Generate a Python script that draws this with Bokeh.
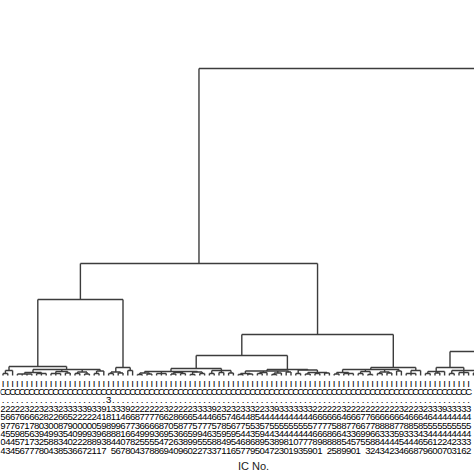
from bokeh.plotting import figure
from bokeh.models import ColumnDataSource, Range1d, Label
from bokeh.embed import file_html
from bokeh.resources import INLINE
from bokeh.core.properties import value

# ---- leaf label rows (one character per visible leaf, leaves 0..97) ----
row_d1 = ("2222232232332333" "3393391333922222" "2232222233339232"
          "3233322339333333" "3222222322222222" "222322232333933333")
row_d2 = ("5667666628226652" "2222418114668777" "7662866654446657"
          "4644854444444444" "4666666466677666" "666646664644444444")
row_d3 = ("9776717803008790" "0000598996773666" "6870587757775785"
          "6775535755555555" "5777758877667788" "887788585555555555")
row_d4 = ("4559856394993540" "9993968881664999" "3695366599463595"
          "9544359443444444" "4666866433699663" "335933343444444444")
row_d5 = ("0445717325883402" "2288938440782555" "5472638995558849"
          "5468689538981077" "7898888545755884" "444544465612242333")
row_d6 = ("4345677780438536" "672117 567804378" "8694096022733711"
          "6577950472301935" "901 2589901 3243" "423466879600703162")
label_prefix = "IC."
prefix_exceptions = {22: "IC3"}
axis_title = "IC No."

# ---- dendrogram: [height, child, child, ...]; ints are leaf indices ----
A1a = [0.5, [0.2, 0, 1], 2]
A1b = [0.6, [0.3, [0.15, 3, 4, 5, 6], [0.2, 7, 8, 9]],
       [0.4, [0.2, 10, 11, 12], [0.25, 13, 14]],
       [0.35, [0.2, 15, 16], [0.15, 17, 18]],
       [0.45, [0.2, 19, 20], 21]]
A2 = [0.8, [0.35, [0.2, 22, 23], [0.25, 24, 25]], [0.5, 26, 27]]
A = [7.6, [0.9, A1a, A1b], A2]

C1a = [0.4, [0.25, [0.1, 28, 29], [0.15, 30, 31]], [0.2, 32, 33, 34],
       [0.3, [0.15, 35, 36], [0.2, 37, 38]],
       [0.35, [0.1, 39, 40], [0.2, 41, 42]]]
C1b = [0.5, [0.2, 43, 44], [0.3, 45, 46], [0.25, 47, 48]]
C2a = [0.45, [0.2, [0.1, 49, 50], [0.15, 51, 52]], [0.3, [0.2, 53, 54], 55],
       [0.25, [0.1, 56, 57], 58], [0.35, 59, 60]]
C2b = [0.55, [0.2, 61, 62], [0.3, [0.15, 63, 64], [0.2, 65, 66], [0.25, 67, 68]]]
C = [2.0, [0.7, C1a, C1b], [0.6, C2a, C2b]]

D1 = [0.6, [0.3, [0.15, 69, 70], [0.2, 71, 72, 73]],
      [0.4, [0.2, 74, 75], [0.1, 76, 77]],
      [0.35, [0.2, 78, 79], [0.25, 80, 81]],
      [0.45, 82, 83]]
D2 = [0.5, [0.2, 84, 85, 86], 87]
B = [4.1, C, [0.8, D1, D2]]

R1 = [0.8, [0.4, [0.2, 88, 89], [0.25, 90, 91], 92],
      [0.5, [0.2, 93, 94], [0.3, 95, 96, 97], [0.25, 98, 99]]]
S = [1.5, *range(100, 161)]          # cut off beyond the right edge
T = [10.0, *range(161, 261)]         # cut off beyond the right edge
tree = [30.7, [11.2, A, B], [20.0, [2.4, R1, S], T]]

# ---- compute segments ----
x0s, y0s, x1s, y1s = [], [], [], []

def walk(node):
    if isinstance(node, int):
        return float(node), 0.0
    h = node[0]
    kids = [walk(c) for c in node[1:]]
    xs = [k[0] for k in kids]
    x0s.append(xs[0]); y0s.append(h); x1s.append(xs[-1]); y1s.append(h)
    for kx, kh in kids:
        x0s.append(kx); y0s.append(kh); x1s.append(kx); y1s.append(h)
    return (xs[0] + xs[-1]) / 2.0, h

walk(tree)

p = figure(width=474, height=474, x_range=Range1d(-0.521, 98.23),
           y_range=Range1d(-9.9, 37.5), output_backend="svg",
           toolbar_location=None, x_axis_type=None, y_axis_type=None,
           min_border=0)
p.grid.visible = False
p.outline_line_color = None
p.background_fill_color = "white"

p.segment(x0=x0s, y0=y0s, x1=x1s, y1=y1s, line_color="#3c3c3c", line_width=1.4)

# ---- leaf labels, written vertically one character per row ----
n_lab = len(row_d1)
rows = []
for i in range(n_lab):
    pre = prefix_exceptions.get(i, label_prefix)
    rows.append(pre + row_d1[i] + row_d2[i] + row_d3[i] + row_d4[i] + row_d5[i] + row_d6[i])

tx, ty, tt = [], [], []
row_y = [-0.8, -1.64, -2.48, -3.32, -4.16, -5.0, -5.84, -6.68, -7.52]
for i, lab in enumerate(rows):
    for r, ch in enumerate(lab):
        if ch != " ":
            tx.append(i); ty.append(row_y[r]); tt.append(ch)

src = ColumnDataSource(dict(x=tx, y=ty, t=tt))
p.text(x="x", y="y", text="t", source=src, text_font=value("Liberation Sans"),
       text_font_size="9.6px", text_align="center", text_baseline="middle",
       text_color="#000000")

p.add_layout(Label(x=52.2, y=-9.0, text=axis_title, text_align="center",
                   text_baseline="middle", text_font="Liberation Sans",
                   text_font_size="11px", text_color="#222222"))

open("out.html", "w").write(file_html(p, INLINE))
